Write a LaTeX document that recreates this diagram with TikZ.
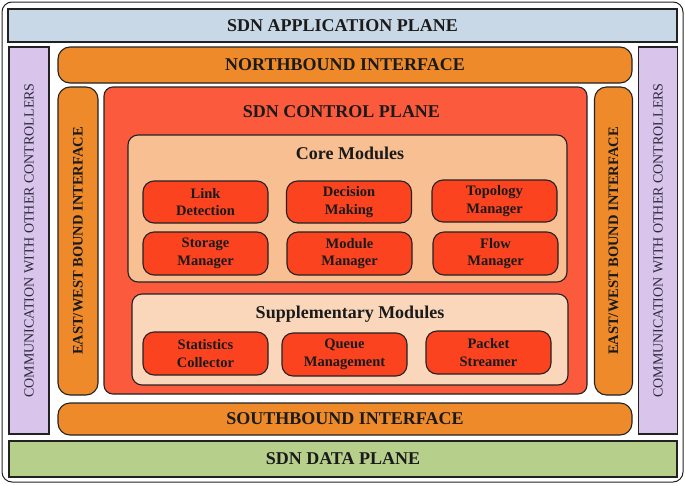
\documentclass[tikz,border=0pt]{standalone}
\usepackage{fontspec}
\setmainfont{Liberation Serif}
\usepackage{xcolor}
\definecolor{edge}{HTML}{222222}
\definecolor{ink}{HTML}{1A1A1A}
\definecolor{sideink}{HTML}{2E2A3A}
\definecolor{appblue}{HTML}{C9D8E6}
\definecolor{datagreen}{HTML}{B6CF8B}
\definecolor{sidepurple}{HTML}{D9C4EC}
\definecolor{ifaceorange}{HTML}{EF8A2B}
\definecolor{ctrlred}{HTML}{FB5A3C}
\definecolor{corepeach}{HTML}{F8BF92}
\definecolor{supppeach}{HTML}{FAD6BA}
\definecolor{modred}{HTML}{FC4320}

\begin{document}
\begin{tikzpicture}[x=1pt,y=-1pt,
    every node/.style={inner sep=0pt, text=ink},
    frame/.style={draw=edge, line width=1.1pt},
    head/.style={font=\bfseries\fontsize{18}{21}\selectfont},
    plane/.style={frame, head},
    iface/.style={frame, head, fill=ifaceorange, rounded corners=12pt},
    side/.style={frame, fill=sidepurple, text=sideink, font=\fontsize{14}{16}\selectfont},
    group/.style={frame, rounded corners=10pt},
    grouptitle/.style={font=\bfseries\fontsize{18}{21}\selectfont},
    module/.style={frame, fill=modred, rounded corners=11pt, minimum width=125pt, minimum height=43pt,
                   align=center, font=\bfseries\fontsize{14.5}{17.5}\selectfont},
  ]
        \useasboundingbox (0,0) rectangle (685,485);

        % Рамка
        \node[draw=edge, line width=1pt, fill=white, rounded corners=10pt,
              minimum width=681pt, minimum height=480pt] (outer) at (342.5,242) {};

        % Плоскости
        \node[plane, fill=appblue, minimum width=669pt, minimum height=33pt] (app) at (342.5,25.5) {SDN APPLICATION PLANE};
        \node[plane, fill=datagreen, minimum width=668pt, minimum height=36pt] (data) at (343,459) {SDN DATA PLANE};

        % Связь с другими контроллерами
        \node[side, rotate=90, minimum width=387pt, minimum height=40pt] (commL) at (29,240.5) {COMMUNICATION WITH OTHER CONTROLLERS};
        \node[side, rotate=90, minimum width=387pt, minimum height=39pt] (commR) at (658,240.5) {COMMUNICATION WITH OTHER CONTROLLERS};

        % Интерфейсы
        \node[iface, minimum width=574pt, minimum height=36pt] (north) at (345,65) {NORTHBOUND INTERFACE};
        \node[iface, minimum width=574pt, minimum height=32pt] (south) at (345,419) {SOUTHBOUND INTERFACE};
        \node[iface, rotate=90, minimum width=308pt, minimum height=40pt, font=\bfseries\fontsize{14.5}{16}\selectfont] (ewL) at (78,241) {EAST/WEST BOUND INTERFACE};
        \node[iface, rotate=90, minimum width=308pt, minimum height=38pt, font=\bfseries\fontsize{14.5}{16}\selectfont] (ewR) at (613.5,241) {EAST/WEST BOUND INTERFACE};

        % Плоскость управления
        \node[group, fill=ctrlred, rounded corners=9pt, minimum width=483pt, minimum height=307pt] (ctrl) at (345.5,240.5) {};
        \node[head] (ctrltitle) at (341.5,111.5) {SDN CONTROL PLANE};

        % Основные модули
        \node[group, fill=corepeach, minimum width=439pt, minimum height=147pt] (core) at (347.5,208.5) {};
        \node[grouptitle] (coretitle) at (350,153) {Core Modules};
        \node[module, minimum height=42pt] (link)  at (205.5,202) {Link\\Detection};
        \node[module, minimum height=42pt] (decis) at (349,202)   {Decision\\Making};
        \node[module, minimum height=42pt] (topo)  at (494.5,201) {Topology\\Manager};
        \node[module] (store) at (205.5,253.5) {Storage\\Manager};
        \node[module] (modm)  at (349.5,253.5) {Module\\Manager};
        \node[module] (flow)  at (495.5,253.5) {Flow\\Manager};

        % Дополнительные модули
        \node[group, fill=supppeach, minimum width=436pt, minimum height=91pt] (supp) at (350,339.5) {};
        \node[grouptitle] (supptitle) at (350,314) {Supplementary Modules};
        \node[module] (stats)  at (205.5,353.5) {Statistics\\Collector};
        \node[module] (queue)  at (344.5,354.5) {Queue\\Management};
        \node[module] (packet) at (488.5,352.5) {Packet\\Streamer};
    \end{tikzpicture}
\end{document}
